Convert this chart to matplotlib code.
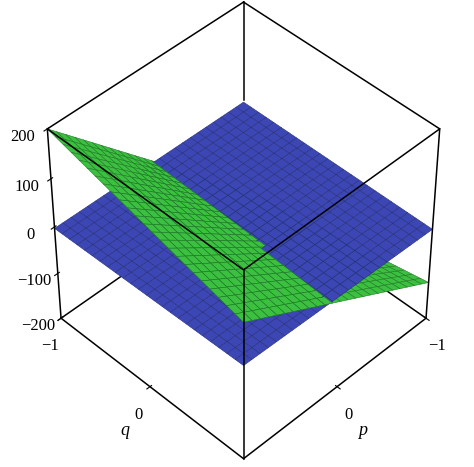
import numpy as np
import matplotlib
matplotlib.use("Agg")
import matplotlib.pyplot as plt
from mpl_toolkits.mplot3d.art3d import Poly3DCollection

p_range = [-1, 1]
q_range = [-1, 1]
z_ticks = [-200, -100, 0, 100, 200]
# surface heights at the corners (p,q): (-1,-1), (1,-1), (-1,1), (1,1)
blue_corners = [-5.0, -3.0, -5.0, 5.0]
green_corners = [-195.0, 200.0, -120.0, 95.0]

n = 25
p = np.linspace(*p_range, n)
q = np.linspace(*q_range, n)
P, Q = np.meshgrid(p, q)

def bilinear(c):
    u = (P + 1) / 2; v = (Q + 1) / 2
    return c[0]*(1-u)*(1-v) + c[1]*u*(1-v) + c[2]*(1-u)*v + c[3]*u*v

ZB = bilinear(blue_corners)
ZG = bilinear(green_corners)

def quads(Z):
    out = []
    for i in range(n-1):
        for j in range(n-1):
            out.append([(P[i,j],Q[i,j],Z[i,j]),(P[i,j+1],Q[i,j+1],Z[i,j+1]),
                        (P[i+1,j+1],Q[i+1,j+1],Z[i+1,j+1]),(P[i+1,j],Q[i+1,j],Z[i+1,j])])
    return out

qb, qg = quads(ZB), quads(ZG)
polys = qb + qg
fc = ['#3c46b4']*len(qb) + ['#3cc040']*len(qg)
ec = ['#26307a']*len(qb) + ['#1f7a24']*len(qg)

fig = plt.figure(figsize=(4.74, 4.67), dpi=100)
ax = fig.add_axes([-0.01, -0.05, 1.02, 1.1], projection='3d', computed_zorder=False)
# hidden bottom-back edges under surfaces
ax.plot([1,-1,-1],[-1,-1,1],[-200]*3,color='black',lw=1.1, zorder=0)
pc = Poly3DCollection(polys, facecolors=fc, edgecolors=ec, linewidths=0.4, zorder=1)
ax.add_collection3d(pc)
ax.plot([-1,1,1,-1,-1],[-1,-1,1,1,-1],[200]*5,color='black',lw=1.1, zorder=5)
ax.plot([1,1,-1],[-1,1,1],[-200]*3,color='black',lw=1.1, zorder=5)
for (a,b) in [(-1,-1),(1,-1),(1,1),(-1,1)]:
    ax.plot([a,a],[b,b],[-200 if (a,b)!=(-1,-1) else 0,200],color='black',lw=1.1, zorder=5)
ax.set_xlim(-1, 1); ax.set_ylim(-1, 1); ax.set_zlim(-200, 200)
ax.set_xticks([-1, 0]); ax.set_yticks([-1, 0]); ax.set_zticks(z_ticks)
ax.set_xlabel('p', style='italic', fontsize=13, family='Liberation Serif')
ax.set_ylabel('q', style='italic', fontsize=13, family='Liberation Serif')
for lab in ax.get_xticklabels()+ax.get_yticklabels()+ax.get_zticklabels():
    lab.set_family('Liberation Serif'); lab.set_fontsize(12)
ax.view_init(elev=45, azim=45)
for a in (ax.xaxis, ax.yaxis, ax.zaxis):
    a.pane.fill = False
    a.pane.set_edgecolor('none')
    a.line.set_color('none')
ax.grid(False)
ax.set_box_aspect((1, 1, 1.0), zoom=0.93)
fig.savefig('out.png', dpi=100)
